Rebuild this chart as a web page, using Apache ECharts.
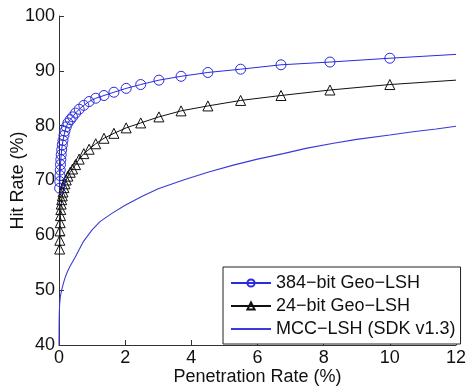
<!DOCTYPE html>
<html>
<head>
<meta charset="utf-8">
<script src="https://cdn.jsdelivr.net/npm/echarts@6/dist/echarts.min.js"></script>
<style>
html,body{margin:0;padding:0;background:#fff;}
#chart{width:474px;height:388px;}
</style>
</head>
<body>
<div id="chart"></div>
<script>
// Marker positions (Penetration Rate %) shared by the two Geo-LSH curves
const geoX = [0.02, 0.025, 0.03, 0.037, 0.045, 0.055, 0.067, 0.082, 0.1, 0.12, 0.15, 0.18, 0.22, 0.27, 0.34, 0.41, 0.5, 0.61, 0.75, 0.91, 1.11, 1.36, 1.66, 2.03, 2.47, 3.02, 3.69, 4.5, 5.49, 6.71, 8.19, 10.0];
const geo384Y = [68.6, 69.8, 70.9, 71.9, 72.9, 73.8, 74.7, 75.6, 76.5, 77.3, 78.2, 79.0, 79.8, 80.5, 81.1, 81.6, 82.3, 83.0, 83.7, 84.4, 85.0, 85.5, 86.1, 86.8, 87.5, 88.3, 89.0, 89.7, 90.3, 91.1, 91.6, 92.3];
const geo24Y = [57.5, 59.1, 60.8, 62.3, 63.6, 64.7, 65.7, 66.5, 67.2, 67.9, 68.7, 69.4, 70.1, 70.8, 71.5, 72.1, 72.9, 73.9, 74.9, 75.7, 76.7, 77.7, 78.6, 79.6, 80.5, 81.6, 82.7, 83.6, 84.6, 85.5, 86.5, 87.5];
// Line continuation beyond last marker (no marker drawn)
const tailX = [11, 12];
const geo384TailY = [92.65, 93.0];
const geo24TailY = [87.9, 88.3];
// MCC-LSH curve (no markers)
const mccX = [0, 0.002, 0.005, 0.01, 0.02, 0.04, 0.08, 0.13, 0.18, 0.25, 0.33, 0.48, 0.73, 1.0, 1.24, 1.6, 2.0, 2.5, 3.0, 3.76, 4.5, 5.27, 6.0, 6.78, 7.5, 8.3, 9.0, 10.0, 10.7, 11.4, 12.0];
const mccY = [40, 42.5, 44.5, 46, 47.5, 48.8, 50, 51.2, 52.2, 53.3, 54.3, 55.9, 58.8, 61.0, 62.5, 64.0, 65.5, 67.1, 68.5, 70.1, 71.5, 72.8, 73.9, 74.9, 75.9, 76.8, 77.5, 78.3, 78.9, 79.4, 79.9];
const xTicks = {min: 0, max: 12, interval: 2};
const yTicks = {min: 40, max: 100, interval: 10};
const names = ['384\u2212bit Geo\u2212LSH', '24\u2212bit Geo\u2212LSH', 'MCC\u2212LSH (SDK v1.3)'];

function markedData(xs, ys, txs, tys) {
  const d = xs.map((x, i) => [x, ys[i]]);
  txs.forEach((x, i) => d.push({value: [x, tys[i]], symbol: 'none'}));
  return d;
}

const FONT = 'Liberation Sans, Arial, Helvetica, sans-serif';
const FS = 18;
const BLUE = '#2a2ae0';
const chart = echarts.init(document.getElementById('chart'), null, {renderer: 'canvas'});
chart.setOption({
  animation: false,
  backgroundColor: '#fff',
  textStyle: {fontFamily: FONT},
  grid: {left: 59, right: 18, top: 16, bottom: 43, containLabel: false, outerBoundsMode: 'none'},
  legend: {
    orient: 'vertical',
    left: 223,
    top: 267,
    itemWidth: 40,
    itemHeight: 9,
    itemGap: 5,
    padding: [7, 5, 6, 7],
    borderColor: '#222',
    borderWidth: 1,
    backgroundColor: '#fff',
    textStyle: {fontFamily: FONT, fontSize: FS, color: '#111'},
    data: names
  },
  xAxis: {
    type: 'value',
    min: xTicks.min, max: xTicks.max, interval: xTicks.interval,
    name: 'Penetration Rate (%)',
    nameLocation: 'middle',
    nameGap: 23,
    nameMoveOverlap: false,
    nameTextStyle: {fontFamily: FONT, fontSize: FS, color: '#111'},
    axisLine: {show: true, lineStyle: {color: '#333', width: 1}},
    axisTick: {show: true, inside: true, length: 5, lineStyle: {color: '#333'}},
    axisLabel: {fontFamily: FONT, fontSize: FS, color: '#111', margin: 4},
    splitLine: {show: false}
  },
  yAxis: {
    type: 'value',
    min: yTicks.min, max: yTicks.max, interval: yTicks.interval,
    name: 'Hit Rate (%)',
    nameLocation: 'middle',
    nameGap: 32,
    nameMoveOverlap: false,
    nameTextStyle: {fontFamily: FONT, fontSize: FS, color: '#111'},
    axisLine: {show: true, lineStyle: {color: '#333', width: 1}},
    axisTick: {show: true, inside: true, length: 5, lineStyle: {color: '#333'}},
    axisLabel: {fontFamily: FONT, fontSize: FS, color: '#111', margin: 4},
    splitLine: {show: false}
  },
  series: [
    {
      name: names[2], type: 'line', z: 1,
      data: mccX.map((x, i) => [x, mccY[i]]),
      symbol: 'circle', showSymbol: false, smooth: false,
      lineStyle: {color: '#3a3ad8', width: 1.1},
      itemStyle: {color: 'rgba(255,255,255,0)', borderWidth: 0, borderColor: 'rgba(255,255,255,0)'}
    },
    {
      name: names[1], type: 'line', z: 2,
      data: markedData(geoX, geo24Y, tailX, geo24TailY),
      symbol: 'triangle', symbolSize: 10, showAllSymbol: true,
      lineStyle: {color: '#111', width: 1},
      itemStyle: {color: 'rgba(255,255,255,0)', borderColor: '#111', borderWidth: 1}
    },
    {
      name: names[0], type: 'line', z: 3,
      data: markedData(geoX, geo384Y, tailX, geo384TailY),
      symbol: 'circle', symbolSize: 10, showAllSymbol: true,
      lineStyle: {color: BLUE, width: 1},
      itemStyle: {color: 'rgba(255,255,255,0)', borderColor: BLUE, borderWidth: 1}
    }
  ]
});
</script>
</body>
</html>
